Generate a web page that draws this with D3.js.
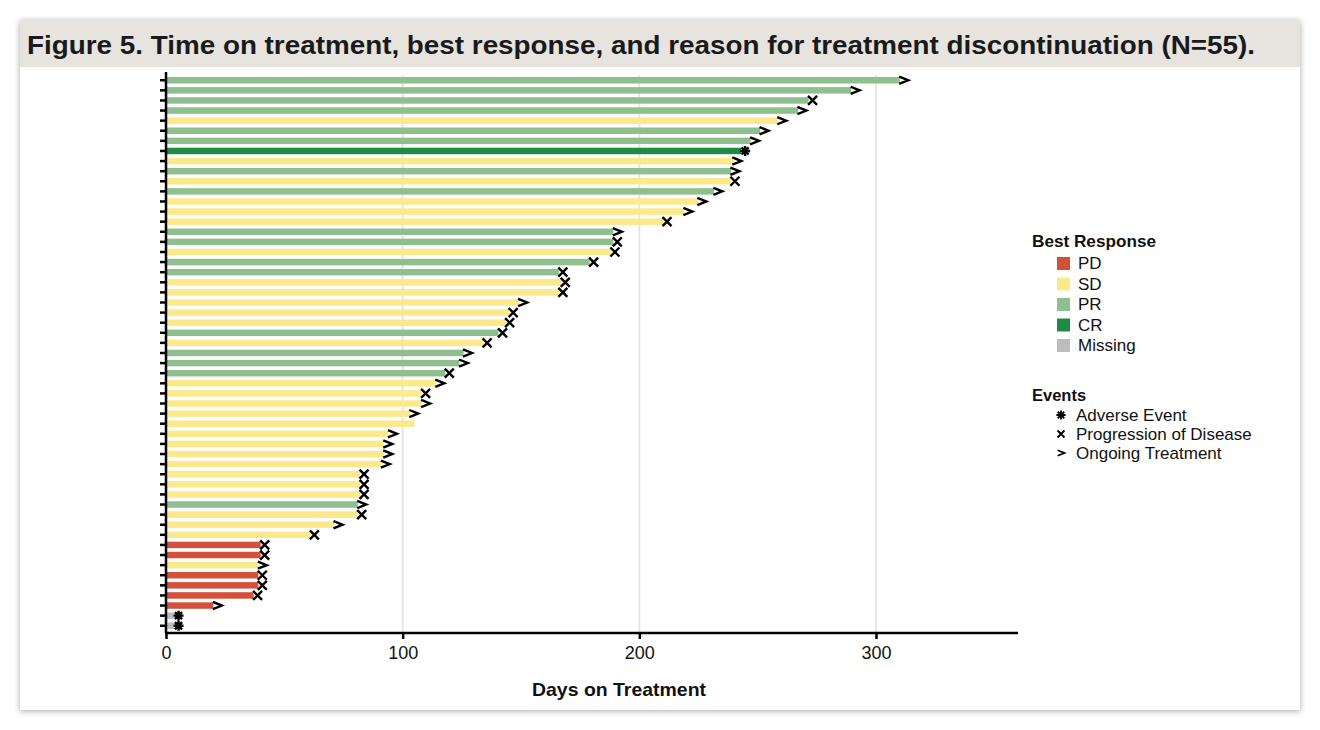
<!DOCTYPE html>
<html><head><meta charset="utf-8">
<script src="https://cdn.jsdelivr.net/npm/d3@7"></script>
<style>
html,body{margin:0;padding:0;background:#fff;}
svg{display:block;font-family:"Liberation Sans",Arial,sans-serif;}
</style></head>
<body>
<svg id="chart" width="1320" height="730"></svg>
<script>
// Patients ordered top to bottom
const days = [310,289.5,271.5,267,258.5,251,247,243,239.5,238.7,238.7,231.5,224.7,218.8,210,
  189,189,188,179,166,167,166,149,145,143.5,140.5,134,125.7,124,118,
  114,108,108,103,105,94,92,92,91,82,82,82,81,81,71,61,
  40,40,39,39,39,37,20,3.6,3.6];
const response = ["PR","PR","PR","PR","SD","PR","PR","CR","SD","PR","SD","PR","SD","SD","SD",
  "PR","PR","SD","PR","PR","SD","SD","SD","SD","SD","PR","SD","PR","PR","PR",
  "SD","SD","SD","SD","SD","SD","SD","SD","SD","SD","SD","SD","PR","SD","SD","SD",
  "PD","PD","SD","PD","PD","PD","PD","Missing","Missing"];
const events = ["O","O","P","O","O","O","O","A","O","O","P","O","O","O","P",
  "O","P","P","P","P","P","P","O","P","P","P","P","O","O","P",
  "O","P","O","O","","O","O","O","O","P","P","P","O","P","O","P",
  "P","P","O","P","P","P","O","A","A"];
const responseCats = ["PD","SD","PR","CR","Missing"];
const responseColors = ["#d4503a","#fbe98c","#8fbf8f","#1e8a43","#bdbdbd"];
const eventKeys = ["A","P","O"];
const eventLabels = ["Adverse Event","Progression of Disease","Ongoing Treatment"];
const xTicks = [0,100,200,300];

const svg = d3.select("#chart");
const defs = svg.append("defs");
const f = defs.append("filter").attr("id","sh").attr("x","-5%").attr("y","-5%").attr("width","110%").attr("height","110%");
f.append("feDropShadow").attr("dx",0).attr("dy",1).attr("stdDeviation",3).attr("flood-color","#000").attr("flood-opacity",0.35);

// panel
svg.append("rect").attr("x",20).attr("y",20).attr("width",1280).attr("height",690).attr("fill","#fff").attr("filter","url(#sh)");
svg.append("rect").attr("x",20).attr("y",20).attr("width",1280).attr("height",47).attr("fill","#e7e3df");
svg.append("text").attr("x",27).attr("y",54).attr("font-size",25.5).attr("font-weight","bold").attr("fill","#1a1a1a")
  .attr("textLength",1228).attr("lengthAdjust","spacingAndGlyphs")
  .text("Figure 5. Time on treatment, best response, and reason for treatment discontinuation (N=55).");

const x0 = 166, x1 = 1018, yTop = 75, yBot = 631;
const x = d3.scaleLinear().domain([0,360]).range([x0,x1]);
const ids = days.map((d,i)=>i);
const y = d3.scaleBand().domain(ids).range([yTop,yBot]).paddingInner(0.36).paddingOuter(0.2);
const color = d3.scaleOrdinal().domain(responseCats).range(responseColors);

// grid
svg.append("g").selectAll("line").data(xTicks.filter(t=>t>0)).join("line")
  .attr("x1",d=>x(d)).attr("x2",d=>x(d)).attr("y1",yTop).attr("y2",633)
  .attr("stroke","#e6e6e6").attr("stroke-width",2);

// bars
svg.append("g").selectAll("rect").data(ids).join("rect")
  .attr("x",x(0)).attr("y",i=>y(i)).attr("width",i=>x(days[i])-x(0)).attr("height",y.bandwidth())
  .attr("fill",i=>color(response[i]));

// markers
const mk = svg.append("g").attr("stroke","#000").attr("fill","none").attr("stroke-width",2.4).attr("stroke-linecap","butt");
function drawMarker(g, type, cx, cy, s){
  if(type==="P"){
    g.append("path").attr("d",`M${cx-s},${cy-s}L${cx+s},${cy+s}M${cx-s},${cy+s}L${cx+s},${cy-s}`);
  } else if(type==="O"){
    g.append("path").attr("d",`M${cx-s},${cy-s*0.8}L${cx+s},${cy}L${cx-s},${cy+s*0.8}`);
  } else if(type==="A"){
    let d="";
    for(let k=0;k<4;k++){const a=k*Math.PI/4;d+=`M${cx-s*Math.cos(a)},${cy-s*Math.sin(a)}L${cx+s*Math.cos(a)},${cy+s*Math.sin(a)}`;}
    g.append("path").attr("d",d);
    g.append("circle").attr("cx",cx).attr("cy",cy).attr("r",s*0.5).attr("fill","#000").attr("stroke","none");
  }
}
ids.forEach(i=>{
  if(!events[i]) return;
  drawMarker(mk, events[i], x(days[i])+4, y(i)+y.bandwidth()/2, events[i]==="A"?5:4.5);
});

// y axis
const yAxis = d3.axisLeft(y).tickSize(6).tickFormat("");
const ya = svg.append("g").attr("transform",`translate(${x0},0)`).call(yAxis);
ya.select(".domain").attr("stroke","#000").attr("stroke-width",2.5).attr("d",`M0,${yTop-3}V633`);
ya.selectAll(".tick line").attr("stroke","#000").attr("stroke-width",2.5);

// x axis
const xAxis = d3.axisBottom(x).tickValues(xTicks).tickSize(6).tickFormat(d3.format("d"));
const xa = svg.append("g").attr("transform",`translate(0,633)`).call(xAxis);
xa.select(".domain").attr("stroke","#000").attr("stroke-width",2.5).attr("d",`M${x0-1},0H${x1}`);
xa.selectAll(".tick line").attr("stroke","#000").attr("stroke-width",2.5);
xa.selectAll(".tick text").attr("font-size",18).attr("fill","#111").attr("dy","0.95em")
  .attr("font-family","'Liberation Sans',Arial,sans-serif");
svg.append("text").attr("x",619).attr("y",696).attr("text-anchor","middle")
  .attr("font-size",18.5).attr("font-weight","bold").attr("fill","#111")
  .attr("textLength",174).attr("lengthAdjust","spacingAndGlyphs")
  .text("Days on Treatment");

// legend
const lg = svg.append("g");
lg.append("text").attr("x",1032).attr("y",247).attr("font-size",16.5).attr("font-weight","bold").attr("fill","#111")
  .attr("textLength",124).attr("lengthAdjust","spacingAndGlyphs").text("Best Response");
responseCats.forEach((c,k)=>{
  const cy = 263 + k*20.5;
  lg.append("rect").attr("x",1057).attr("y",cy-6).attr("width",13).attr("height",13).attr("fill",responseColors[k]);
  lg.append("text").attr("x",1078).attr("y",cy+6).attr("font-size",17).attr("fill","#111").text(c);
});
lg.append("text").attr("x",1032).attr("y",401).attr("font-size",16.5).attr("font-weight","bold").attr("fill","#111").text("Events");
const lm = lg.append("g").attr("stroke","#000").attr("fill","none").attr("stroke-width",1.8);
eventKeys.forEach((e,k)=>{
  const cy = 415 + k*19;
  drawMarker(lm, e, 1061, cy, e==="O"?3.4:(e==="A"?4.6:3.5));
  lg.append("text").attr("x",1076).attr("y",cy+5.5).attr("font-size",17).attr("fill","#111").text(eventLabels[k]);
});
</script>
</body></html>
